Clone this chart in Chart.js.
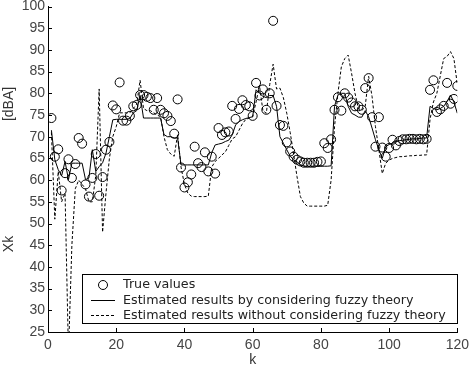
<!DOCTYPE html>
<html lang="en">
<head>
  <meta charset="UTF-8" />
  <title>True vs estimated values</title>
  <script src="https://cdn.jsdelivr.net/npm/chart.js"></script>
  <style>
    html, body { margin: 0; padding: 0; background: #fff; }
    .chart-container { width: 474px; height: 369px; }
  </style>
</head>
<body>
  <div class="chart-container">
    <canvas id="myChart" width="474" height="369"></canvas>
  </div>

  <script>
    // k = 1 .. 120
    const trueValues = [74.3, 65.4, 67.1, 57.6, 61.6, 64.8, 60.5, 63.7, 69.7, 68.4,
      59.0, 56.2, 60.5, 66.0, 56.4, 60.7, 67.0, 68.8, 77.2, 76.3,
      82.5, 73.7, 73.7, 74.8, 77.0, 77.3, 79.6, 79.6, 79.2, 78.9,
      76.2, 78.9, 76.2, 75.4, 74.8, 73.6, 70.7, 78.6, 62.9, 58.3,
      59.5, 61.3, 67.7, 63.9, 63.0, 66.4, 62.0, 65.4, 61.5, 72.0,
      70.4, 71.0, 71.2, 77.1, 74.1, 76.4, 78.4, 77.3, 77.0, 74.8,
      82.4, 79.5, 80.9, 76.2, 80.0, 96.7, 77.1, 72.7, 72.5, 68.7,
      66.6, 65.4, 64.7, 64.3, 64.0, 64.0, 64.0, 64.0, 64.2, 64.3,
      68.5, 67.4, 69.4, 76.2, 79.1, 76.0, 80.0, 79.0, 77.9, 77.0,
      77.0, 76.2, 81.2, 83.5, 74.5, 67.7, 74.5, 67.5, 65.4, 67.4,
      69.3, 68.0, 69.0, 69.4, 69.4, 69.5, 69.5, 69.4, 69.5, 69.4,
      69.5, 80.8, 83.0, 75.7, 76.3, 77.1, 82.4, 77.6, 78.7, 81.7];

    const fuzzyValues = [71.5, 64.7, 62.4, 61.0, 64.3, 60.1, 63.9, 63.9, 63.9, 63.9,
      60.1, 60.5, 67.0, 62.0, 63.1, 64.0, 66.2, 70.0, 73.9, 74.0,
      74.0, 74.0, 74.0, 74.2, 75.5, 76.0, 79.5, 74.3, 74.3, 74.3,
      74.3, 74.3, 74.3, 70.5, 70.0, 70.0, 69.7, 69.7, 63.5, 63.5,
      63.5, 63.5, 63.5, 63.5, 63.5, 63.5, 63.5, 66.3, 68.1, 68.3,
      68.5, 68.9, 69.2, 70.4, 72.7, 73.5, 73.9, 74.2, 74.4, 74.6,
      80.8, 80.0, 79.3, 79.0, 79.5, 79.5, 77.0, 70.0, 68.5, 67.0,
      65.5, 64.7, 64.2, 63.6, 63.2, 63.2, 63.2, 63.2, 63.2, 63.2,
      63.2, 63.2, 63.3, 77.0, 79.6, 80.0, 80.0, 77.0, 75.4, 75.0,
      74.5, 74.5, 76.0, 74.6, 72.0, 69.3, 67.0, 65.0, 67.7, 68.2,
      68.5, 68.9, 69.1, 69.2, 69.3, 69.4, 69.5, 69.5, 69.6, 69.7,
      69.7, 77.0, 76.5, 76.2, 76.5, 77.0, 78.1, 79.6, 78.0, 75.4];

    const noFuzzyValues = [71.0, 51.0, 62.0, 55.0, 57.0, 20.0, 45.0, 58.0, 60.0, 59.0,
      58.0, 55.0, 55.0, 61.0, 81.0, 48.0, 57.0, 65.0, 70.0, 72.3,
      75.5, 75.5, 75.5, 75.5, 76.5, 77.5, 83.0, 76.5, 76.0, 76.0,
      75.5, 75.0, 74.6, 70.0, 67.0, 66.0, 65.5, 70.5, 63.0, 59.0,
      57.0, 56.3, 56.2, 56.2, 56.2, 56.2, 56.3, 63.0, 64.3, 65.0,
      65.8, 66.5, 68.0, 69.5, 70.0, 71.5, 73.0, 74.0, 74.3, 74.6,
      78.0, 81.8, 76.0, 75.4, 82.0, 86.7, 81.0, 81.2, 79.0, 75.4,
      71.0, 66.0, 60.8, 56.2, 54.7, 54.0, 54.0, 54.0, 54.0, 54.0,
      54.0, 54.2, 60.0, 72.3, 80.0, 86.1, 88.0, 88.8, 84.6, 80.0,
      76.5, 76.0, 77.0, 83.9, 79.3, 72.3, 67.0, 61.5, 63.9, 64.6,
      65.0, 65.2, 65.4, 65.4, 65.5, 65.6, 65.6, 65.7, 65.7, 65.8,
      65.8, 74.0, 78.0, 80.0, 84.0, 88.0, 88.5, 89.6, 88.0, 82.0];

    const seriesLabels = ['True values',
      'Estimated results by considering fuzzy theory',
      'Estimated results without considering fuzzy theory'];

    const xTicks = [0, 20, 40, 60, 80, 100, 120];
    const yTicks = [25, 30, 35, 40, 45, 50, 55, 60, 65, 70, 75, 80, 85, 90, 95, 100];

    const toPoints = arr => arr.map((v, i) => ({ x: i + 1, y: v }));

    const tickFont = { family: 'Liberation Sans', size: 14 };

    // MATLAB-style inward tick marks, y label and legend box
    const decorations = {
      id: 'decorations',
      afterDraw(chart) {
        const { ctx, chartArea: a, scales: { x, y } } = chart;
        ctx.save();
        ctx.strokeStyle = '#000';
        ctx.lineWidth = 1;
        ctx.beginPath();
        yTicks.forEach(t => {
          const py = Math.round(y.getPixelForValue(t)) + 0.5;
          ctx.moveTo(a.left, py);
          ctx.lineTo(a.left + 4, py);
        });
        xTicks.forEach(t => {
          const px = Math.round(x.getPixelForValue(t)) + 0.5;
          ctx.moveTo(px, a.bottom);
          ctx.lineTo(px, a.bottom - 4);
        });
        ctx.stroke();

        // y axis label
        ctx.fillStyle = '#333';
        ctx.font = '14px "Liberation Sans"';
        ctx.textAlign = 'center';
        ctx.textBaseline = 'middle';
        ctx.save();
        ctx.translate(9, 104);
        ctx.rotate(-Math.PI / 2);
        ctx.fillText('[dBA]', 0, 0);
        ctx.restore();
        ctx.save();
        ctx.translate(9, 244);
        ctx.rotate(-Math.PI / 2);
        ctx.fillText('Xk', 0, 0);
        ctx.restore();

        // legend
        const lx = 82.5, ly = 274.5, lw = 375, lh = 49;
        ctx.fillStyle = '#fff';
        ctx.fillRect(lx, ly, lw, lh);
        ctx.strokeRect(lx, ly, lw, lh);
        const rows = [285, 300.5, 315.5];
        ctx.beginPath();
        ctx.arc(103, rows[0], 4.5, 0, Math.PI * 2);
        ctx.stroke();
        ctx.beginPath();
        ctx.moveTo(91, rows[1]);
        ctx.lineTo(115, rows[1]);
        ctx.stroke();
        ctx.setLineDash([3, 2]);
        ctx.beginPath();
        ctx.moveTo(91, rows[2]);
        ctx.lineTo(115, rows[2]);
        ctx.stroke();
        ctx.setLineDash([]);
        ctx.fillStyle = '#222';
        ctx.font = '12.7px "DejaVu Sans"';
        ctx.textAlign = 'left';
        seriesLabels.forEach((t, i) => ctx.fillText(t, 123, rows[i]));
        ctx.restore();
      }
    };

    const config = {
      type: 'scatter',
      data: {
        datasets: [
          {
            label: seriesLabels[0],
            data: toPoints(trueValues),
            showLine: false,
            pointStyle: 'circle',
            pointRadius: 4.5,
            pointBorderWidth: 1,
            pointBorderColor: '#000',
            pointBackgroundColor: 'rgba(0,0,0,0)'
          },
          {
            label: seriesLabels[1],
            data: toPoints(fuzzyValues),
            showLine: true,
            pointRadius: 0,
            borderColor: '#000',
            borderWidth: 1,
            tension: 0
          },
          {
            label: seriesLabels[2],
            data: toPoints(noFuzzyValues),
            showLine: true,
            pointRadius: 0,
            borderColor: '#000',
            borderWidth: 1,
            borderDash: [3, 2],
            tension: 0
          }
        ]
      },
      options: {
        responsive: false,
        animation: false,
        layout: { padding: { top: 0, right: 12, left: 0, bottom: 0 } },
        plugins: {
          legend: { display: false },
          tooltip: { enabled: false }
        },
        scales: {
          x: {
            type: 'linear',
            min: 0,
            max: 120,
            afterFit: s => { s.height = 37; },
            afterBuildTicks: s => { s.ticks = xTicks.map(v => ({ value: v })); },
            ticks: { color: '#444', font: tickFont, padding: 5, maxRotation: 0 },
            grid: { display: false, drawTicks: false },
            border: { display: true, color: '#000', width: 1 },
            title: { display: true, text: 'k', color: '#333', font: tickFont, padding: 0 }
          },
          y: {
            min: 25,
            max: 100,
            afterFit: s => { s.width = 48; s.paddingTop = 6.5; s.paddingBottom = 0; },
            afterBuildTicks: s => { s.ticks = yTicks.map(v => ({ value: v })); },
            ticks: { color: '#444', font: tickFont, padding: 3 },
            grid: { display: false, drawTicks: false },
            border: { display: true, color: '#000', width: 1 }
          }
        }
      },
      plugins: [decorations]
    };

    new Chart(document.getElementById('myChart'), config);
  </script>
</body>
</html>
